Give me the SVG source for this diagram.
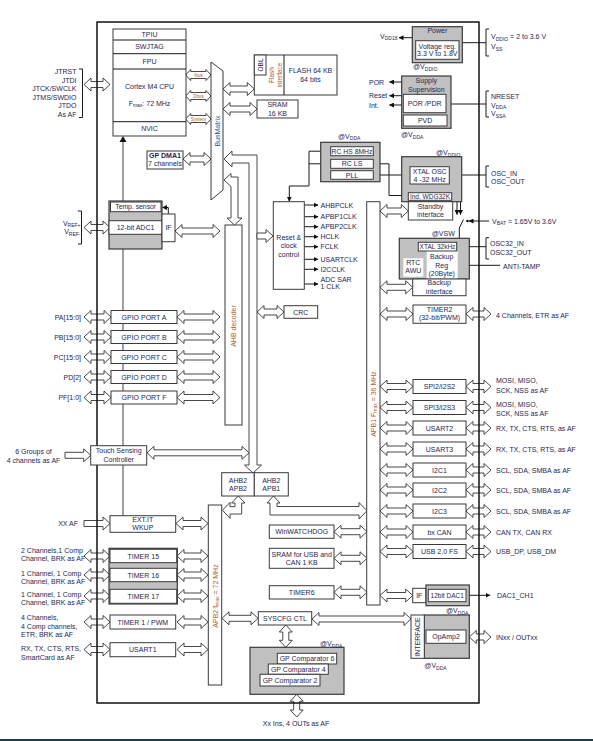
<svg xmlns="http://www.w3.org/2000/svg" width="593" height="741" viewBox="0 0 593 741">
<defs>
<style>
text{font-family:"Liberation Sans",Arial,sans-serif;font-size:7px;fill:#1c2756}
.m{text-anchor:middle}
.e{text-anchor:end}
.o{fill:#b4621e}
.bl{fill:#2c4f8f}
.s{font-size:5px}
.f6{font-size:6.5px}
.f5{font-size:4.6px}
.bx{fill:#fff;stroke:#3a3a3a;stroke-width:1}
.wt{fill:#fff;stroke:none}
.gy{fill:#c0c0c0;stroke:#3a3a3a;stroke-width:1.2}
.fa{fill:#fff;stroke:#333;stroke-width:0.9}
.ln{fill:none;stroke:#1a1a1a;stroke-width:1}
.la{fill:none;stroke:#1a1a1a;stroke-width:1;marker-end:url(#ah)}
</style>
<marker id="ah" viewBox="0 0 10 10" refX="9" refY="5" markerWidth="5" markerHeight="5" orient="auto"><path d="M0,0L10,5L0,10z" fill="#111"/></marker>
</defs>
<rect width="593" height="741" fill="#fff"/>

<!-- interrupt line -->
<g id="nvic-line">
<path d="M123,140V515.7" fill="none" stroke="#7f7f7f" stroke-width="1.5"/>
<path d="M123,136L119.5,142H126.5Z" fill="#111"/>
</g>

<g id="connectors">
<!-- CPU buses -->
<polygon class="fa" points="185.7,75 190.7,69.5 190.7,71.5 206,71.5 206,69.5 211,75 206,80.5 206,78.5 190.7,78.5 190.7,80.5"/>
<polygon class="fa" points="185.7,96 190.7,90.5 190.7,92.5 206,92.5 206,90.5 211,96 206,101.5 206,99.5 190.7,99.5 190.7,101.5"/>
<polygon class="fa" points="185.7,119 190.7,113.5 190.7,115.5 206,115.5 206,113.5 211,119 206,124.5 206,122.5 190.7,122.5 190.7,124.5"/>
<text class="o f5 m" x="198.5" y="76.7">Ibus</text>
<text class="o f5 m" x="198.5" y="97.7">Dbus</text>
<text class="o f5 m" x="198.5" y="120.7">System</text>
<!-- DMA -->
<polygon class="fa" points="183,159 190,152.5 190,156 204,156 204,152.5 211,159 204,165.5 204,162 190,162 190,165.5"/>
<!-- Flash / SRAM -->
<polygon class="fa" points="223,89 230,82.5 230,86 247.3,86 247.3,82.5 254.3,89 247.3,95.5 247.3,92 230,92 230,95.5"/>
<polygon class="fa" points="223,109 230,102.5 230,106 250,106 250,102.5 257,109 250,115.5 250,112 230,112 230,115.5"/>
<!-- main AHB bus to bridges -->
<polygon class="fa" points="224,159 232,151 232,155 257,155 257,465 261.5,465 253,473 244.5,465 249,465 249,163 232,163 232,167"/>
<!-- bus matrix to AHB decoder -->
<polygon class="fa" points="224,180 231,173.5 231,177 238,177 238,218 242,218 234.5,225 227,218 231,218 231,186.5"/>
<!-- reset & clock, CRC -->
<polygon class="fa" points="257,233 266,233 266,229.5 273,236 266,242.5 266,239 257,239"/>
<polygon class="fa" points="257,312 264,305.5 264,309 277,309 277,305.5 284,312 277,318.5 277,315 264,315 264,318.5"/>
<!-- JTAG, VREF -->
<polygon class="fa" points="84,84.5 91,78 91,81.5 103,81.5 103,78 110,84.5 103,91 103,87.5 91,87.5 91,91"/>
<polygon class="fa" points="84,227.5 91,221 91,224.5 103,224.5 103,221 110,227.5 103,234 103,230.5 91,230.5 91,234"/>
<!-- ADC IF to decoder -->
<polygon class="fa" points="175,231 182,224.5 182,228 213,228 213,224.5 220,231 213,237.5 213,234 182,234 182,237.5"/>
<!-- GPIO pins -->
<polygon class="fa" points="84,317 91,310.5 91,314 104,314 104,310.5 111,317 104,323.5 104,320 91,320 91,323.5"/>
<polygon class="fa" points="84,337 91,330.5 91,334 104,334 104,330.5 111,337 104,343.5 104,340 91,340 91,343.5"/>
<polygon class="fa" points="84,357 91,350.5 91,354 104,354 104,350.5 111,357 104,363.5 104,360 91,360 91,363.5"/>
<polygon class="fa" points="84,377 91,370.5 91,374 104,374 104,370.5 111,377 104,383.5 104,380 91,380 91,383.5"/>
<polygon class="fa" points="84,397.5 91,391 91,394.5 104,394.5 104,391 111,397.5 104,404 104,400.5 91,400.5 91,404"/>
<!-- GPIO to decoder -->
<polygon class="fa" points="177,317 184,310.5 184,314 213,314 213,310.5 220,317 213,323.5 213,320 184,320 184,323.5"/>
<polygon class="fa" points="177,337 184,330.5 184,334 213,334 213,330.5 220,337 213,343.5 213,340 184,340 184,343.5"/>
<polygon class="fa" points="177,357 184,350.5 184,354 213,354 213,350.5 220,357 213,363.5 213,360 184,360 184,363.5"/>
<polygon class="fa" points="177,377 184,370.5 184,374 213,374 213,370.5 220,377 213,383.5 213,380 184,380 184,383.5"/>
<polygon class="fa" points="177,397.5 184,391 184,394.5 213,394.5 213,391 220,397.5 213,404 213,400.5 184,400.5 184,404"/>
<!-- touch sensing -->
<polygon class="fa" points="65,452.3 83.7,452.3 83.7,448.8 90.7,455.3 83.7,461.8 83.7,458.3 65,458.3"/>
<polygon class="fa" points="147,452.8 154,446.3 154,449.8 242,449.8 242,446.3 249,452.8 242,459.3 242,455.8 154,455.8 154,459.3"/>
<!-- EXT.IT -->
<polygon class="fa" points="84,520.5 103,520.5 103,517 110,523.5 103,530 103,526.5 84,526.5"/>
<polygon class="fa" points="176,523.5 183,517 183,520.5 201,520.5 201,517 208,523.5 201,530 201,526.5 183,526.5 183,530"/>
<!-- timers left pins -->
<polygon class="fa" points="84,556 91,549.5 91,553 103,553 103,549.5 110,556 103,562.5 103,559 91,559 91,562.5"/>
<polygon class="fa" points="84,575 91,568.5 91,572 103,572 103,568.5 110,575 103,581.5 103,578 91,578 91,581.5"/>
<polygon class="fa" points="84,596 91,589.5 91,593 103,593 103,589.5 110,596 103,602.5 103,599 91,599 91,602.5"/>
<polygon class="fa" points="84,622 91,615.5 91,619 103,619 103,615.5 110,622 103,628.5 103,625 91,625 91,628.5"/>
<polygon class="fa" points="84,649.5 91,643 91,646.5 103,646.5 103,643 110,649.5 103,656 103,652.5 91,652.5 91,656"/>
<!-- timers to APB2 -->
<polygon class="fa" points="177,556 184,549.5 184,553 201,553 201,549.5 208,556 201,562.5 201,559 184,559 184,562.5"/>
<polygon class="fa" points="177,575 184,568.5 184,572 201,572 201,568.5 208,575 201,581.5 201,578 184,578 184,581.5"/>
<polygon class="fa" points="177,596 184,589.5 184,593 201,593 201,589.5 208,596 201,602.5 201,599 184,599 184,602.5"/>
<polygon class="fa" points="177,622 184,615.5 184,619 201,619 201,615.5 208,622 201,628.5 201,625 184,625 184,628.5"/>
<polygon class="fa" points="177,649.5 184,643 184,646.5 201,646.5 201,643 208,649.5 201,656 201,652.5 184,652.5 184,656"/>
<!-- bridges to buses -->
<polygon class="fa" points="238.3,496 245,503 241.7,503 241.7,514 230,514 230,518.3 222.5,510.3 230,502.3 230,506.7 235,506.7 235,503 231.6,503"/>
<polygon class="fa" points="273.5,496 280,503 277,503 277,506.5 359,506.5 359,502.5 367,510.7 359,519 359,515 270,515 270,503 267,503"/>
<!-- APB1 left peripherals -->
<polygon class="fa" points="334,531.7 341,525.2 341,528.7 360,528.7 360,525.2 367,531.7 360,538.2 360,534.7 341,534.7 341,538.2"/>
<polygon class="fa" points="334,558.3 341,551.8 341,555.3 360,555.3 360,551.8 367,558.3 360,564.8 360,561.3 341,561.3 341,564.8"/>
<polygon class="fa" points="334,592.3 341,585.8 341,589.3 360,589.3 360,585.8 367,592.3 360,598.8 360,595.3 341,595.3 341,598.8"/>
<!-- SYSCFG -->
<polygon class="fa" points="222,618.3 229,611.8 229,615.3 251,615.3 251,611.8 258,618.3 251,624.8 251,621.3 229,621.3 229,624.8"/>
<polygon class="fa" points="312,619 319,612.5 319,616 404,616 404,612.5 411,619 404,625.5 404,622 319,622 319,625.5"/>
<polygon class="fa" points="285.8,625 292.3,632 288.8,632 288.8,640.3 292.3,640.3 285.8,647.3 279.3,640.3 282.8,640.3 282.8,632 279.3,632"/>
<polygon class="fa" points="296.7,694.3 303.2,701.3 299.7,701.3 299.7,710 303.2,710 296.7,717 290.2,710 293.7,710 293.7,701.3 290.2,701.3"/>
<!-- APB1 right peripherals -->
<polygon class="fa" points="380,211 387,204.5 387,208 401.3,208 401.3,204.5 408.3,211 401.3,217.5 401.3,214 387,214 387,217.5"/>
<polygon class="fa" points="380,287.3 387,280.8 387,284.3 405.7,284.3 405.7,280.8 412.7,287.3 405.7,293.8 405.7,290.3 387,290.3 387,293.8"/>
<polygon class="fa" points="380,314 387,307.5 387,311 406,311 406,307.5 413,314 406,320.5 406,317 387,317 387,320.5"/>
<polygon class="fa" points="380,386.5 387,380 387,383.5 406,383.5 406,380 413,386.5 406,393 406,389.5 387,389.5 387,393"/>
<polygon class="fa" points="380,407.5 387,401 387,404.5 406,404.5 406,401 413,407.5 406,414 406,410.5 387,410.5 387,414"/>
<polygon class="fa" points="380,428 387,421.5 387,425 406,425 406,421.5 413,428 406,434.5 406,431 387,431 387,434.5"/>
<polygon class="fa" points="380,449 387,442.5 387,446 406,446 406,442.5 413,449 406,455.5 406,452 387,452 387,455.5"/>
<polygon class="fa" points="380,470 387,463.5 387,467 406,467 406,463.5 413,470 406,476.5 406,473 387,473 387,476.5"/>
<polygon class="fa" points="380,490 387,483.5 387,487 406,487 406,483.5 413,490 406,496.5 406,493 387,493 387,496.5"/>
<polygon class="fa" points="380,511 387,504.5 387,508 406,508 406,504.5 413,511 406,517.5 406,514 387,514 387,517.5"/>
<polygon class="fa" points="380,532 387,525.5 387,529 406,529 406,525.5 413,532 406,538.5 406,535 387,535 387,538.5"/>
<polygon class="fa" points="380,551.5 387,545 387,548.5 406,548.5 406,545 413,551.5 406,558 406,554.5 387,554.5 387,558"/>
<polygon class="fa" points="380,595.5 387,589 387,592.5 405.7,592.5 405.7,589 412.7,595.5 405.7,602 405.7,598.5 387,598.5 387,602"/>
<!-- right pins -->
<polygon class="fa" points="466,314 473,307.5 473,311 484,311 484,307.5 491,314 484,320.5 484,317 473,317 473,320.5"/>
<polygon class="fa" points="466,386.5 473,380 473,383.5 484,383.5 484,380 491,386.5 484,393 484,389.5 473,389.5 473,393"/>
<polygon class="fa" points="466,407.5 473,401 473,404.5 484,404.5 484,401 491,407.5 484,414 484,410.5 473,410.5 473,414"/>
<polygon class="fa" points="466,428 473,421.5 473,425 484,425 484,421.5 491,428 484,434.5 484,431 473,431 473,434.5"/>
<polygon class="fa" points="466,449 473,442.5 473,446 484,446 484,442.5 491,449 484,455.5 484,452 473,452 473,455.5"/>
<polygon class="fa" points="466,470 473,463.5 473,467 484,467 484,463.5 491,470 484,476.5 484,473 473,473 473,476.5"/>
<polygon class="fa" points="466,490 473,483.5 473,487 484,487 484,483.5 491,490 484,496.5 484,493 473,493 473,496.5"/>
<polygon class="fa" points="466,511 473,504.5 473,508 484,508 484,504.5 491,511 484,517.5 484,514 473,514 473,517.5"/>
<polygon class="fa" points="466,532 473,525.5 473,529 484,529 484,525.5 491,532 484,538.5 484,535 473,535 473,538.5"/>
<polygon class="fa" points="466,551.5 473,545 473,548.5 484,548.5 484,545 491,551.5 484,558 484,554.5 473,554.5 473,558"/>
<polygon class="fa" points="469.3,637 476.3,630.5 476.3,634 484,634 484,630.5 491,637 484,643.5 484,640 476.3,640 476.3,643.5"/>
<!-- thin lines -->
<path class="la" d="M412.3,37.7H399"/>
<path class="ln" d="M462.3,42.7H486"/>
<path class="la" d="M401.7,82H389.5"/>
<path class="la" d="M401.7,95.7H389.5"/>
<path class="la" d="M401.7,105H389.5"/>
<path class="ln" d="M451,104H486"/>
<path class="ln" d="M461.7,175H486"/>
<path class="ln" d="M456.7,246.7H486"/>
<path class="ln" d="M330.7,151.2H309V186H289.3M330.7,163.8H309"/>
<path class="la" d="M289.3,186V201.2"/>
<path class="ln" d="M373.3,163.8H389V195.5"/>
<path class="la" d="M389,195.5H407.8"/>
<path class="ln" d="M373.3,175H401.7"/>
<path class="la" d="M457,201.7V214.5"/>
<path class="la" d="M460.5,201.7V214.5"/>
<path class="ln" d="M459.3,238.3V228L463.5,219.5"/>
<path class="la" d="M489,221H469"/>
<path class="la" d="M500,265.3H458.8"/>
<path class="la" d="M469.3,595.3H490"/>
<path class="la" d="M304.3,205H318"/>
<path class="la" d="M304.3,216.7H318"/>
<path class="la" d="M304.3,226.7H318"/>
<path class="la" d="M304.3,236.7H318"/>
<path class="la" d="M304.3,246.7H318"/>
<path class="la" d="M304.3,259.3H318"/>
<path class="la" d="M304.3,269.3H318"/>
<path class="la" d="M304.3,284H318"/>
<path class="la" d="M168.3,214V207.5H162.5"/>
</g>

<g id="cpu">
<rect class="bx" x="113" y="29" width="73" height="107"/>
<path class="ln" d="M113,40H186M113,53.7H186M113,69H186M113,121.7H186"/>
<text class="m" x="149.5" y="37.2">TPIU</text>
<text class="m" x="149.5" y="49.4">SWJTAG</text>
<text class="m" x="149.5" y="63.8">FPU</text>
<text class="m" x="149.5" y="89">Cortex M4 CPU</text>
<text class="m" x="149.5" y="105.8">F<tspan class="s" dy="1.5">max</tspan><tspan dy="-1.5">: 72 MHz</tspan></text>
<text class="m" x="149.5" y="131.3">NVIC</text>
</g>

<g id="jtag-pins">
<text class="e" x="76.5" y="74.2">JTRST</text>
<text class="e" x="76.5" y="83.2">JTDI</text>
<text class="e" x="76.5" y="91.2">JTCK/SWCLK</text>
<text class="e" x="76.5" y="100.2">JTMS/SWDIO</text>
<text class="e" x="76.5" y="108.2">JTDO</text>
<text class="e" x="76.5" y="116.8">As AF</text>
<path class="ln" d="M79,69H82.5V117.5H79"/>
</g>

<g id="dma">
<rect class="bx" x="147" y="151" width="36" height="18"/>
<text class="m" x="165" y="157.5" font-weight="bold">GP DMA1</text>
<text class="m" x="165" y="165.5">7 channels</text>
</g>

<g id="busmatrix">
<path class="bx" d="M211,62L223,71V190L211,200Z"/>
<text class="bl m" transform="translate(219.5,131) rotate(-90)">BusMatrix</text>
</g>

<g id="flash">
<rect class="bx" x="254.3" y="55" width="82.7" height="40"/>
<path class="ln" d="M284,55V95"/>
<rect class="bx" x="254.3" y="55" width="11.7" height="20"/>
<text class="m f6" transform="translate(262.5,65) rotate(-90)">OBL</text>
<text class="m o f6" transform="translate(273.6,75) rotate(-90)">Flash</text>
<text class="m o f6" transform="translate(281.5,75) rotate(-90)">interface</text>
<text class="m" x="310.5" y="72.8">FLASH 64 KB</text>
<text class="m" x="310.5" y="81.5">64 bits</text>
</g>

<g id="sram">
<rect class="bx" x="257" y="100" width="41" height="18"/>
<text class="m" x="277.5" y="106.8">SRAM</text>
<text class="m" x="277.5" y="115.8">16 KB</text>
</g>

<g id="power">
<rect class="gy" x="412.3" y="26.7" width="50" height="36"/>
<text class="m" x="437.3" y="33.4">Power</text>
<rect class="bx" x="415.7" y="40.7" width="43.3" height="18.6"/>
<text class="m" x="437.3" y="48.5">Voltage reg.</text>
<text class="m" x="437.3" y="56">3.3 V to 1.8V</text>
<text x="413" y="69">@V<tspan class="s" dy="1.5">DDIO</tspan></text>
<text x="380" y="38.5">V<tspan class="s" dy="1.5">DD18</tspan></text>
</g>

<g id="power-pins">
<path class="ln" d="M489,29H486V56H489"/>
<text x="491" y="39">V<tspan class="s" dy="1.5">DDIO</tspan><tspan dy="-1.5"> = 2 to 3.6 V</tspan></text>
<text x="491" y="49">V<tspan class="s" dy="1.5">SS</tspan></text>
</g>

<g id="supply">
<rect class="gy" x="401.7" y="76" width="49.3" height="52.3"/>
<text class="m" x="426.3" y="82.7">Supply</text>
<text class="m" x="426.3" y="91.5">Supervision</text>
<rect class="bx" x="403.3" y="94.3" width="42.7" height="18.4"/>
<text class="m" x="424.6" y="106">POR /PDR</text>
<rect class="bx" x="403.3" y="115" width="43.7" height="11"/>
<text class="m" x="425.1" y="123">PVD</text>
<text x="401" y="137">@V<tspan class="s" dy="1.5">DDA</tspan></text>
<text x="369" y="84.5">POR</text>
<text x="369" y="98.2">Reset</text>
<text x="369" y="107.5">Int.</text>
</g>

<g id="supply-pins">
<path class="ln" d="M489,91H486V117H489"/>
<text x="491" y="99.2">NRESET</text>
<text x="491" y="107.5">V<tspan class="s" dy="1.5">DDA</tspan></text>
<text x="491" y="116.3">V<tspan class="s" dy="1.5">SSA</tspan></text>
</g>

<g id="rc-osc">
<rect class="gy" x="320.7" y="142.3" width="59.3" height="39.4"/>
<rect class="bx" x="330.7" y="146.7" width="42.6" height="9"/>
<text class="m" x="352" y="153.7" style="font-size:6.8px">RC HS 8MHz</text>
<rect class="bx" x="330.7" y="159.3" width="42.6" height="9"/>
<text class="m" x="352" y="166.3">RC LS</text>
<rect class="bx" x="330.7" y="170.7" width="42.6" height="8.6"/>
<text class="m" x="352" y="177.5">PLL</text>
<text x="338" y="138.5">@V<tspan class="s" dy="1.5">DDA</tspan></text>
</g>

<g id="xtal-osc">
<rect class="gy" x="401.7" y="156.7" width="60" height="45"/>
<rect class="bx" x="410" y="166.7" width="39.3" height="17.3"/>
<text class="m" x="429.7" y="173.5">XTAL OSC</text>
<text class="m" x="429.7" y="182">4 -32 MHz</text>
<rect class="bx" x="408.3" y="192.7" width="43.4" height="7.6"/>
<text class="m f6" x="430" y="199">Ind. WDG32K</text>
<text x="436" y="155">@V<tspan class="s" dy="1.5">DDIO</tspan></text>
</g>

<g id="osc-pins">
<path class="ln" d="M489,166H486V187H489"/>
<text x="491" y="175.5">OSC_IN</text>
<text x="491" y="183.8">OSC_OUT</text>
</g>

<g id="standby">
<rect class="bx" x="408.3" y="201.7" width="44.4" height="18.3"/>
<text class="m" x="430.5" y="208.5">Standby</text>
<text class="m" x="430.5" y="216.8">interface</text>
</g>

<g id="vbat">
<circle cx="467.5" cy="221" r="1.3" fill="#111"/>
<text x="492" y="223.5">V<tspan class="s" dy="1.5">BAT</tspan><tspan dy="-1.5"> = 1.65V to 3.6V</tspan></text>
</g>

<g id="backup-domain">
<rect class="gy" x="399.3" y="238.3" width="70" height="40.7"/>
<rect class="wt" x="426.7" y="251" width="31" height="27.5"/>
<rect class="wt" x="403.3" y="258.3" width="20" height="18.4"/>
<rect class="bx" x="418.3" y="242.3" width="38.4" height="8.7"/>
<text class="m f6" x="437.5" y="249.3">XTAL 32kHz</text>
<text class="m" x="441.7" y="259.2">Backup</text>
<text class="m" x="441.7" y="267.5">Reg</text>
<text class="m" x="441.7" y="275.8">(20Byte)</text>
<text class="m" x="413.3" y="265.2">RTC</text>
<text class="m" x="413.3" y="273.2">AWU</text>
<text x="431.7" y="235.5">@VSW</text>
</g>

<g id="osc32-pins">
<path class="ln" d="M489,237.7H486V259H489"/>
<text x="490" y="245.5">OSC32_IN</text>
<text x="490" y="254.5">OSC32_OUT</text>
<text x="503" y="268.5">ANTI-TAMP</text>
</g>

<g id="backup-if">
<rect class="bx" x="412.7" y="279" width="53.3" height="16.7"/>
<text class="m" x="439.3" y="285">Backup</text>
<text class="m" x="439.3" y="293.5">interface</text>
</g>

<g id="rcc">
<rect class="bx" x="273.3" y="201.7" width="31" height="87.6"/>
<text class="m" x="288.8" y="240">Reset &amp;</text>
<text class="m" x="288.8" y="248.2">clock</text>
<text class="m" x="288.8" y="256.8">control</text>
<text x="320.5" y="207.5">AHBPCLK</text>
<text x="320.5" y="219.2">APBP1CLK</text>
<text x="320.5" y="229.2">APBP2CLK</text>
<text x="320.5" y="239.2">HCLK</text>
<text x="320.5" y="249.2">FCLK</text>
<text x="320.5" y="261.8">USARTCLK</text>
<text x="320.5" y="271.8">I2CCLK</text>
<text x="320.5" y="281.5">ADC SAR</text>
<text x="320.5" y="289.2">1 CLK</text>
</g>

<g id="crc">
<rect class="bx" x="284" y="305.7" width="33.7" height="12.6"/>
<text class="m" x="300.8" y="314.5">CRC</text>
</g>

<g id="adc">
<rect class="gy" x="109" y="201" width="53" height="48"/>
<rect class="bx" x="110.5" y="202" width="50.5" height="9.7"/>
<text class="m" x="135.7" y="209.4" style="font-size:6.8px">Temp. sensor</text>
<rect class="bx" x="109" y="220.7" width="53" height="13.6"/>
<text class="m" x="135.5" y="230">12-bit ADC1</text>
<rect class="bx" x="162" y="214" width="13" height="27.7"/>
<text class="m" x="168.5" y="230.3">IF</text>
</g>

<g id="vref-pins">
<path class="ln" d="M78,211H81.5V244H78"/>
<text class="e" x="80.5" y="225.5">V<tspan class="s" dy="1.5">REF+</tspan></text>
<text class="e" x="80.5" y="234">V<tspan class="s" dy="1.5">REF-</tspan></text>
</g>

<g id="ahb-decoder">
<rect class="bx" x="225" y="225" width="17" height="200"/>
<text class="m o" transform="translate(236,326) rotate(-90)">AHB decoder</text>
</g>

<g id="gpio">
<rect class="bx" x="111" y="310.5" width="66" height="13"/>
<text class="m" x="144" y="319.5">GPIO PORT A</text>
<rect class="bx" x="111" y="330.5" width="66" height="13"/>
<text class="m" x="144" y="339.5">GPIO PORT B</text>
<rect class="bx" x="111" y="350.5" width="66" height="13"/>
<text class="m" x="144" y="359.5">GPIO PORT C</text>
<rect class="bx" x="111" y="370.5" width="66" height="13"/>
<text class="m" x="144" y="379.5">GPIO PORT D</text>
<rect class="bx" x="111" y="391" width="66" height="13"/>
<text class="m" x="144" y="400">GPIO PORT F</text>
<text class="e" x="81" y="319.5">PA[15:0]</text>
<text class="e" x="81" y="339.5">PB[15:0]</text>
<text class="e" x="81" y="359.5">PC[15:0]</text>
<text class="e" x="81" y="379.5">PD[2]</text>
<text class="e" x="81" y="400">PF[1:0]</text>
</g>

<g id="ahb2-apb2">
<rect class="bx" x="221.7" y="472.7" width="32.6" height="23.3"/>
<text class="m" x="238" y="482.5">AHB2</text>
<text class="m" x="238" y="490.8">APB2</text>
</g>
<g id="ahb2-apb1">
<rect class="bx" x="254.3" y="472.7" width="34" height="23.3"/>
<text class="m" x="271.3" y="482.5">AHB2</text>
<text class="m" x="271.3" y="490.8">APB1</text>
</g>

<g id="apb1-bus">
<rect class="bx" x="366.7" y="201.7" width="13.3" height="403.3"/>
<text class="m o" transform="translate(375.8,404) rotate(-90)">APB1 F<tspan class="s" dy="1.5">max</tspan><tspan dy="-1.5"> = 36 MHz</tspan></text>
</g>

<g id="apb2-bus">
<rect class="bx" x="208.3" y="505" width="13.4" height="180"/>
<text class="m o" transform="translate(217.5,596) rotate(-90)">APB2  f<tspan class="s" dy="1.5">max</tspan><tspan dy="-1.5"> = 72 MHz</tspan></text>
</g>

<g id="touch-pins">
<text class="m" x="33.5" y="454">6 Groups of</text>
<text class="m" x="33.5" y="462.5">4 channels as AF</text>
</g>

<g id="extit">
<rect class="bx" x="110" y="515.7" width="65.7" height="16.6"/>
<text class="m" x="142.8" y="522">EXT.IT</text>
<text class="m" x="142.8" y="530">WKUP</text>
<text class="e" x="78" y="525.5">XX AF</text>
</g>

<g id="timers-adv">
<rect class="gy" x="109" y="548.3" width="68.3" height="55.7"/>
<rect class="bx" x="110" y="549.3" width="66.7" height="13.4"/>
<text class="m" x="143.3" y="558.5">TIMER 15</text>
<rect class="bx" x="110" y="568.3" width="66.7" height="13.4"/>
<text class="m" x="143.3" y="577.5">TIMER 16</text>
<rect class="bx" x="110" y="589.3" width="66.7" height="14"/>
<text class="m" x="143.3" y="598.8">TIMER 17</text>
</g>

<g id="timer1">
<rect class="bx" x="110" y="615" width="65.7" height="14"/>
<text class="m" x="142.8" y="624.5">TIMER 1 / PWM</text>
</g>

<g id="usart1">
<rect class="bx" x="110" y="642.7" width="65.7" height="14"/>
<text class="m" x="142.8" y="652.2">USART1</text>
</g>

<g id="left-pins">
<text x="21" y="552.5">2 Channels,1 Comp</text>
<text x="21" y="560.8">Channel, BRK as AF</text>
<text x="21" y="575.8">1 Channel, 1 Comp</text>
<text x="21" y="584.2">Channel, BRK as AF</text>
<text x="21" y="596.8">1 Channel, 1 Comp</text>
<text x="21" y="604.8">Channel, BRK as AF</text>
<text x="21" y="619.8">4 Channels,</text>
<text x="21" y="628.5">4 Comp channels,</text>
<text x="21" y="636.8">ETR, BRK as AF</text>
<text x="21" y="650.8">RX, TX, CTS, RTS,</text>
<text x="21" y="659.8">SmartCard as AF</text>
</g>

<g id="winwdg">
<rect class="bx" x="269.3" y="525" width="64.7" height="13.3"/>
<text class="m" x="301.7" y="534.2">WinWATCHDOG</text>
</g>
<g id="sram-usb">
<rect class="bx" x="269.3" y="548.3" width="64.7" height="20"/>
<text class="m" x="301.7" y="556.8">SRAM for USB and</text>
<text class="m" x="301.7" y="565.2">CAN 1 KB</text>
</g>
<g id="timer6">
<rect class="bx" x="269.3" y="585.7" width="64.7" height="13.3"/>
<text class="m" x="301.7" y="594.8">TIMER6</text>
</g>

<g id="syscfg">
<rect class="bx" x="258.3" y="611.7" width="53.4" height="13.3"/>
<text class="m" x="285" y="620.8">SYSCFG CTL</text>
</g>

<g id="comparators">
<rect class="gy" x="250" y="647.3" width="94" height="47"/>
<rect class="bx" x="277.3" y="653.3" width="59.4" height="10.7"/>
<text class="m" x="307" y="661.2">GP Comparator 6</text>
<rect class="bx" x="268.3" y="664" width="60" height="10.3"/>
<text class="m" x="298.3" y="671.7">GP Comparator 4</text>
<rect class="bx" x="260" y="674.3" width="60" height="11.7"/>
<text class="m" x="290" y="682.7">GP Comparator 2</text>
<text x="320" y="646">@V<tspan class="s" dy="1.5">DDA</tspan></text>
<text class="m" x="296" y="725.5">Xx Ins, 4 OUTs as AF</text>
</g>

<g id="timer2">
<rect class="bx" x="413" y="305" width="53" height="18.3"/>
<text class="m" x="439.5" y="311.5">TIMER2</text>
<text class="m" x="439.5" y="320.2">(32-bit/PWM)</text>
</g>

<g id="apb1-periph">
<rect class="bx" x="413" y="379.5" width="53" height="14"/>
<text class="m" x="439.5" y="389">SPI2/I2S2</text>
<rect class="bx" x="413" y="400.5" width="53" height="14"/>
<text class="m" x="439.5" y="410">SPI3/I2S3</text>
<rect class="bx" x="413" y="421" width="53" height="14"/>
<text class="m" x="439.5" y="430.5">USART2</text>
<rect class="bx" x="413" y="442" width="53" height="14"/>
<text class="m" x="439.5" y="451.5">USART3</text>
<rect class="bx" x="413" y="463" width="53" height="14"/>
<text class="m" x="439.5" y="472.5">I2C1</text>
<rect class="bx" x="413" y="483" width="53" height="14"/>
<text class="m" x="439.5" y="492.5">I2C2</text>
<rect class="bx" x="413" y="504" width="53" height="14"/>
<text class="m" x="439.5" y="513.5">I2C3</text>
<rect class="bx" x="413" y="525" width="53" height="14"/>
<text class="m" x="439.5" y="534.5">bx CAN</text>
<rect class="bx" x="413" y="544.5" width="53" height="14"/>
<text class="m" x="439.5" y="554">USB 2.0 FS</text>
</g>

<g id="dac">
<rect class="bx" x="412.7" y="588.3" width="13.3" height="14.4"/>
<text class="m" x="419.3" y="598">IF</text>
<rect class="gy" x="426" y="585" width="43.3" height="20.7"/>
<rect class="bx" x="428.3" y="589.3" width="37.7" height="12.4"/>
<text class="m f6" x="447.2" y="597.8">12bit DAC1</text>
<text x="446" y="613">@V<tspan class="s" dy="1.5">DDA</tspan></text>
</g>

<g id="opamp">
<rect class="gy" x="424.3" y="615" width="45" height="43.3"/>
<rect class="bx" x="411" y="615" width="13.3" height="43.3"/>
<text class="m" transform="translate(420.2,637) rotate(-90)">INTERFACE</text>
<rect class="bx" x="426" y="630" width="40" height="13.3"/>
<text class="m" x="446" y="639.2">OpAmp2</text>
<text x="424.3" y="668">@V<tspan class="s" dy="1.5">DDA</tspan></text>
</g>

<g id="pins-right">
<text x="496" y="317.5">4 Channels, ETR as AF</text>
<text x="496" y="383.2">MOSI, MISO,</text>
<text x="496" y="392.5">SCK, NSS as AF</text>
<text x="496" y="406.8">MOSI, MISO,</text>
<text x="496" y="415.8">SCK, NSS as AF</text>
<text x="496" y="430.5">RX, TX, CTS, RTS, as AF</text>
<text x="496" y="451.5">RX, TX, CTS, RTS, as AF</text>
<text x="496" y="472.5">SCL, SDA, SMBA as AF</text>
<text x="496" y="492.5">SCL, SDA, SMBA as AF</text>
<text x="496" y="513.5">SCL, SDA, SMBA as AF</text>
<text x="496" y="534.5">CAN TX, CAN RX</text>
<text x="496" y="554">USB_DP, USB_DM</text>
<text x="497" y="598">DAC1_CH1</text>
<text x="496" y="640">INxx / OUTxx</text>
</g>

<g id="chip">
<rect x="97" y="22" width="382" height="681" fill="none" stroke="#111" stroke-width="1.5"/>
</g>

<g id="touch">
<rect class="bx" x="90.7" y="445.7" width="56" height="19.3"/>
<text class="m" x="118.7" y="453">Touch Sensing</text>
<text class="m" x="118.7" y="461.8">Controller</text>
</g>

<path d="M0,740H593" stroke="#1d3b4f" stroke-width="2"/>
</svg>
